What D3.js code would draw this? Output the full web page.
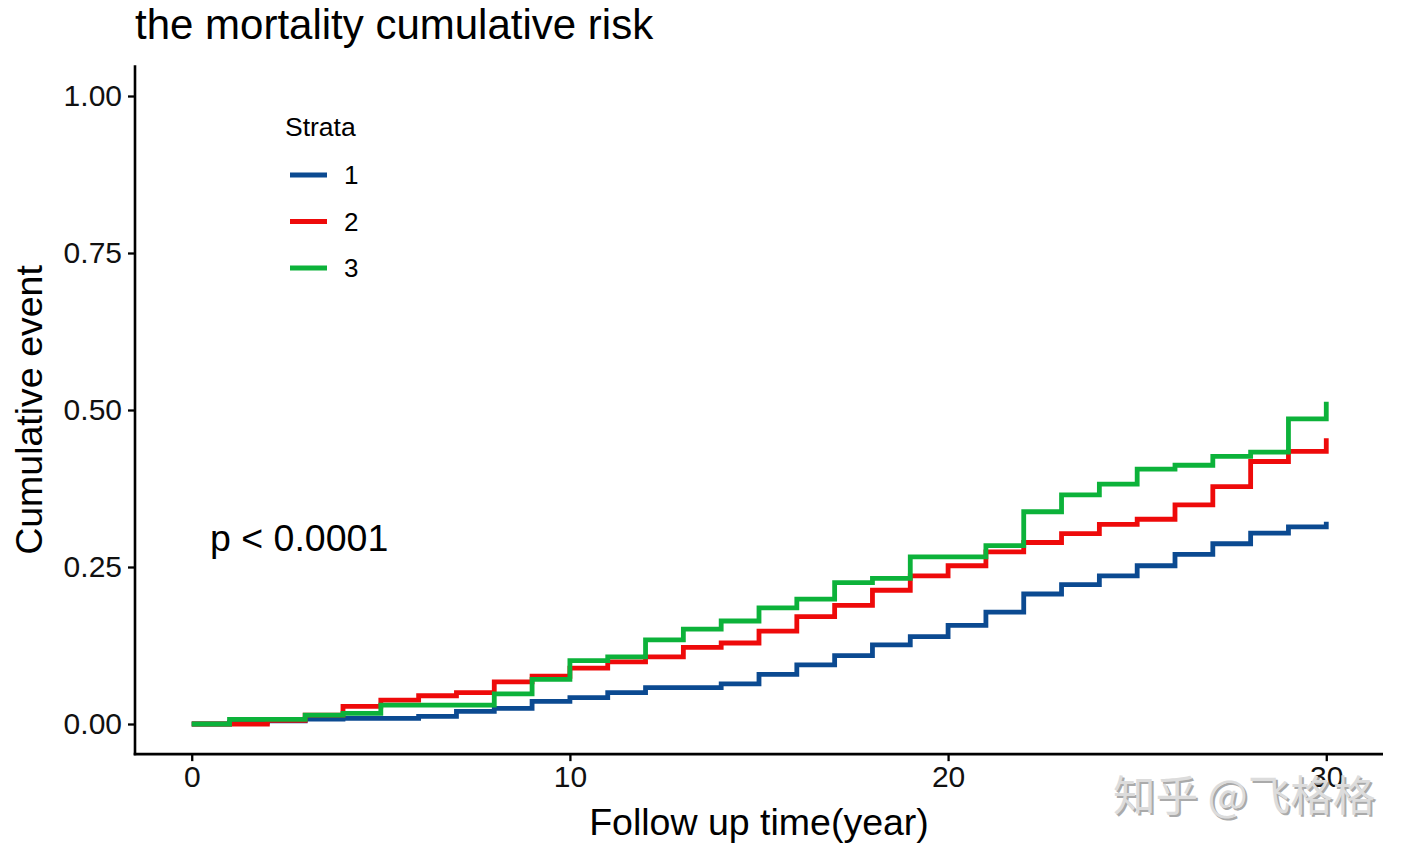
<!DOCTYPE html>
<html>
<head>
<meta charset="utf-8">
<script src="https://cdn.jsdelivr.net/npm/d3@7"></script>
<style>
  html, body { margin: 0; padding: 0; background: #ffffff; }
  svg { display: block; font-family: "Liberation Sans", Arial, sans-serif; }
</style>
</head>
<body>
<svg id="chart" width="1412" height="854"></svg>
<script>
// ---- data ----
const years = [0,1,2,3,4,5,6,7,8,9,10,11,12,13,14,15,16,17,18,19,20,21,22,23,24,25,26,27,28,29,30];
const strata1 = [0,0.003,0.005,0.008,0.009,0.009,0.012,0.020,0.025,0.036,0.042,0.050,0.058,0.058,0.064,0.079,0.094,0.109,0.126,0.139,0.157,0.178,0.207,0.222,0.236,0.252,0.270,0.287,0.304,0.314,0.322];
const strata2 = [0,0,0.006,0.014,0.028,0.038,0.045,0.050,0.067,0.076,0.089,0.099,0.107,0.122,0.129,0.148,0.171,0.189,0.213,0.236,0.252,0.274,0.289,0.303,0.318,0.326,0.349,0.378,0.418,0.434,0.455];
const strata3 = [0,0.0075,0.0075,0.014,0.017,0.030,0.030,0.030,0.048,0.071,0.101,0.107,0.134,0.151,0.164,0.185,0.199,0.225,0.232,0.266,0.266,0.284,0.338,0.365,0.382,0.406,0.412,0.426,0.433,0.486,0.513];
const strataNames = ["1","2","3"];
const strataColors = ["#0B4A91","#EE0A0A","#0CB23A"];
const xTicks = [0,10,20,30];
const yTicks = [0,0.25,0.5,0.75,1.0];
const titleText = "the mortality cumulative risk";
const xTitle = "Follow up time(year)";
const yTitle = "Cumulative event";
const pText = "p < 0.0001";
const legendTitle = "Strata";
const watermark = "知乎 @飞格格";

// ---- layout ----
const svg = d3.select("#chart");
const x = d3.scaleLinear().domain([-1.5, 31.5]).range([135, 1383]);
const y = d3.scaleLinear().domain([0, 1]).range([724, 96]);
const yLo = -0.048, yHi = 1.049;

// axes lines
svg.append("line")
  .attr("x1", x(-1.5)).attr("x2", x(-1.5))
  .attr("y1", y(yHi)).attr("y2", y(yLo) + 1.2)
  .attr("stroke", "#000").attr("stroke-width", 2.6);
svg.append("line")
  .attr("x1", x(-1.5) - 1.3).attr("x2", x(31.5))
  .attr("y1", y(yLo)).attr("y2", y(yLo))
  .attr("stroke", "#000").attr("stroke-width", 2.6);

// y axis ticks
const yAxis = d3.axisLeft(y).tickValues(yTicks).tickFormat(d3.format(".2f")).tickSize(7).tickPadding(6);
const gy = svg.append("g").attr("transform", `translate(${x(-1.5)},0)`).call(yAxis);
gy.select(".domain").remove();
gy.selectAll(".tick line").attr("stroke", "#000").attr("stroke-width", 2.3);
gy.selectAll(".tick text").attr("font-size", 30).attr("fill", "#111")
  .attr("font-family", "'Liberation Sans', Arial, sans-serif");

// x axis ticks
const xAxis = d3.axisBottom(x).tickValues(xTicks).tickFormat(d3.format("d")).tickSize(7).tickPadding(5);
const gx = svg.append("g").attr("transform", `translate(0,${y(yLo)})`).call(xAxis);
gx.select(".domain").remove();
gx.selectAll(".tick line").attr("stroke", "#000").attr("stroke-width", 2.3);
gx.selectAll(".tick text").attr("font-size", 30).attr("fill", "#111")
  .attr("font-family", "'Liberation Sans', Arial, sans-serif");

// lines
const series = [strata1, strata2, strata3];
const line = d3.line().x((d, i) => x(years[i])).y(d => y(d)).curve(d3.curveStepAfter);
series.forEach((vals, k) => {
  svg.append("path")
    .datum(vals)
    .attr("d", line)
    .attr("fill", "none")
    .attr("stroke", strataColors[k])
    .attr("stroke-width", 4.8)
    .attr("stroke-linejoin", "miter")
    .attr("stroke-linecap", "butt");
});

// title
svg.append("text").attr("x", 135).attr("y", 39)
  .attr("font-size", 42).attr("fill", "#000").text(titleText);

// axis titles
svg.append("text").attr("x", x(15)).attr("y", 835)
  .attr("text-anchor", "middle").attr("font-size", 37.5).attr("fill", "#000").text(xTitle);
svg.append("text")
  .attr("transform", `translate(42,${y(0.5)}) rotate(-90)`)
  .attr("text-anchor", "middle").attr("font-size", 37.5).attr("fill", "#000").text(yTitle);

// p value
svg.append("text").attr("x", 210).attr("y", 551)
  .attr("font-size", 37.5).attr("fill", "#000").text(pText);

// legend
svg.append("text").attr("x", 285).attr("y", 136)
  .attr("font-size", 26.5).attr("fill", "#000").text(legendTitle);
strataNames.forEach((nm, k) => {
  const ly = 175 + k * 46.5;
  svg.append("line").attr("x1", 290).attr("x2", 327).attr("y1", ly).attr("y2", ly)
    .attr("stroke", strataColors[k]).attr("stroke-width", 4.8);
  svg.append("text").attr("x", 344).attr("y", ly + 9)
    .attr("font-size", 26).attr("fill", "#000").text(nm);
});

// watermark
const wm = svg.append("g").attr("font-family", "'Noto Sans CJK SC', sans-serif").attr("font-size", 42.5);
wm.append("text").attr("x", 1115).attr("y", 813).attr("fill", "#666").attr("opacity", 0.55).text(watermark);
wm.append("text").attr("x", 1113).attr("y", 811).attr("fill", "#dcdcdc").text(watermark);
</script>
</body>
</html>
